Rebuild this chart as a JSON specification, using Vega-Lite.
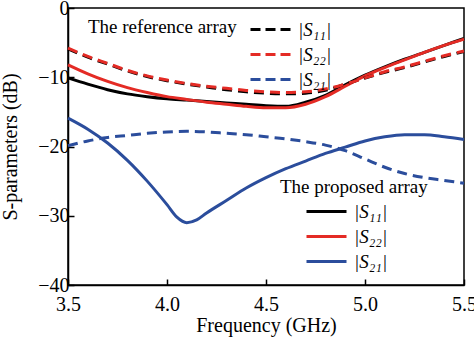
{
  "$schema": "https://vega.github.io/schema/vega-lite/v6.json",
  "width": 396,
  "height": 277,
  "autosize": {"type": "none"},
  "padding": {"left": 68, "top": 8, "right": 10, "bottom": 52},
  "config": {
    "font": "Liberation Serif",
    "view": {"stroke": "black", "strokeWidth": 1.5},
    "axis": {
      "domainColor": "black", "domainWidth": 1.5,
      "tickColor": "black", "tickWidth": 1.5, "tickSize": -6,
      "labelFont": "Liberation Serif", "labelFontSize": 20, "labelColor": "black",
      "titleFont": "Liberation Serif", "titleFontSize": 20, "titleFontWeight": "normal", "titleColor": "black",
      "grid": false, "labelFlush": false, "labelOverlap": false
    },
    "legend": {
      "titleFont": "Liberation Serif", "titleFontSize": 19, "titleFontWeight": "normal", "titleColor": "black",
      "labelFont": "Liberation Serif", "labelFontSize": 19, "labelColor": "black", "labelFontStyle": "italic",
      "symbolType": "stroke", "symbolSize": 1600, "symbolStrokeWidth": 3,
      "clipHeight": 23, "rowPadding": 2, "padding": 0
    }
  },
  "datasets": {
    "prop": [
      {"f": 3.5, "db": -10.1, "s": "|S₁₁|"}, {"f": 3.6, "db": -11.0, "s": "|S₁₁|"}, {"f": 3.7, "db": -11.8, "s": "|S₁₁|"},
      {"f": 3.8, "db": -12.4, "s": "|S₁₁|"}, {"f": 3.9, "db": -12.8, "s": "|S₁₁|"}, {"f": 4.0, "db": -13.1, "s": "|S₁₁|"},
      {"f": 4.1, "db": -13.3, "s": "|S₁₁|"}, {"f": 4.2, "db": -13.5, "s": "|S₁₁|"}, {"f": 4.3, "db": -13.7, "s": "|S₁₁|"},
      {"f": 4.4, "db": -13.9, "s": "|S₁₁|"}, {"f": 4.5, "db": -14.1, "s": "|S₁₁|"}, {"f": 4.6, "db": -14.2, "s": "|S₁₁|"},
      {"f": 4.7, "db": -13.6, "s": "|S₁₁|"}, {"f": 4.8, "db": -12.6, "s": "|S₁₁|"}, {"f": 4.9, "db": -11.1, "s": "|S₁₁|"},
      {"f": 5.0, "db": -9.7, "s": "|S₁₁|"}, {"f": 5.1, "db": -8.5, "s": "|S₁₁|"}, {"f": 5.2, "db": -7.4, "s": "|S₁₁|"},
      {"f": 5.3, "db": -6.4, "s": "|S₁₁|"}, {"f": 5.4, "db": -5.4, "s": "|S₁₁|"}, {"f": 5.5, "db": -4.4, "s": "|S₁₁|"},

      {"f": 3.5, "db": -8.2, "s": "|S₂₂|"}, {"f": 3.6, "db": -9.5, "s": "|S₂₂|"}, {"f": 3.7, "db": -10.6, "s": "|S₂₂|"},
      {"f": 3.8, "db": -11.5, "s": "|S₂₂|"}, {"f": 3.9, "db": -12.2, "s": "|S₂₂|"}, {"f": 4.0, "db": -12.8, "s": "|S₂₂|"},
      {"f": 4.1, "db": -13.2, "s": "|S₂₂|"}, {"f": 4.2, "db": -13.6, "s": "|S₂₂|"}, {"f": 4.3, "db": -13.9, "s": "|S₂₂|"},
      {"f": 4.4, "db": -14.2, "s": "|S₂₂|"}, {"f": 4.5, "db": -14.4, "s": "|S₂₂|"}, {"f": 4.6, "db": -14.4, "s": "|S₂₂|"},
      {"f": 4.7, "db": -13.9, "s": "|S₂₂|"}, {"f": 4.8, "db": -12.8, "s": "|S₂₂|"}, {"f": 4.9, "db": -11.3, "s": "|S₂₂|"},
      {"f": 5.0, "db": -9.8, "s": "|S₂₂|"}, {"f": 5.1, "db": -8.6, "s": "|S₂₂|"}, {"f": 5.2, "db": -7.5, "s": "|S₂₂|"},
      {"f": 5.3, "db": -6.4, "s": "|S₂₂|"}, {"f": 5.4, "db": -5.4, "s": "|S₂₂|"}, {"f": 5.5, "db": -4.5, "s": "|S₂₂|"},

      {"f": 3.5, "db": -15.9, "s": "|S₂₁|"}, {"f": 3.6, "db": -17.5, "s": "|S₂₁|"}, {"f": 3.7, "db": -19.5, "s": "|S₂₁|"},
      {"f": 3.8, "db": -22.0, "s": "|S₂₁|"}, {"f": 3.9, "db": -25.0, "s": "|S₂₁|"}, {"f": 4.0, "db": -28.4, "s": "|S₂₁|"},
      {"f": 4.05, "db": -30.2, "s": "|S₂₁|"}, {"f": 4.1, "db": -31.0, "s": "|S₂₁|"}, {"f": 4.15, "db": -30.6, "s": "|S₂₁|"},
      {"f": 4.2, "db": -29.6, "s": "|S₂₁|"}, {"f": 4.3, "db": -27.8, "s": "|S₂₁|"}, {"f": 4.4, "db": -26.0, "s": "|S₂₁|"},
      {"f": 4.5, "db": -24.5, "s": "|S₂₁|"}, {"f": 4.6, "db": -23.2, "s": "|S₂₁|"}, {"f": 4.7, "db": -22.1, "s": "|S₂₁|"},
      {"f": 4.8, "db": -21.0, "s": "|S₂₁|"}, {"f": 4.9, "db": -20.1, "s": "|S₂₁|"}, {"f": 5.0, "db": -19.2, "s": "|S₂₁|"},
      {"f": 5.1, "db": -18.6, "s": "|S₂₁|"}, {"f": 5.2, "db": -18.3, "s": "|S₂₁|"}, {"f": 5.3, "db": -18.3, "s": "|S₂₁|"},
      {"f": 5.4, "db": -18.6, "s": "|S₂₁|"}, {"f": 5.5, "db": -19.0, "s": "|S₂₁|"}
    ],
    "ref": [
      {"f": 3.5, "db": -5.9, "s": "|S₁₁|"}, {"f": 3.6, "db": -7.1, "s": "|S₁₁|"}, {"f": 3.7, "db": -8.1, "s": "|S₁₁|"},
      {"f": 3.8, "db": -9.1, "s": "|S₁₁|"}, {"f": 3.9, "db": -9.9, "s": "|S₁₁|"}, {"f": 4.0, "db": -10.5, "s": "|S₁₁|"},
      {"f": 4.1, "db": -11.0, "s": "|S₁₁|"}, {"f": 4.2, "db": -11.4, "s": "|S₁₁|"}, {"f": 4.3, "db": -11.8, "s": "|S₁₁|"},
      {"f": 4.4, "db": -12.1, "s": "|S₁₁|"}, {"f": 4.5, "db": -12.3, "s": "|S₁₁|"}, {"f": 4.6, "db": -12.4, "s": "|S₁₁|"},
      {"f": 4.7, "db": -12.3, "s": "|S₁₁|"}, {"f": 4.8, "db": -11.9, "s": "|S₁₁|"}, {"f": 4.9, "db": -11.0, "s": "|S₁₁|"},
      {"f": 5.0, "db": -10.1, "s": "|S₁₁|"}, {"f": 5.1, "db": -9.3, "s": "|S₁₁|"}, {"f": 5.2, "db": -8.6, "s": "|S₁₁|"},
      {"f": 5.3, "db": -7.8, "s": "|S₁₁|"}, {"f": 5.4, "db": -7.0, "s": "|S₁₁|"}, {"f": 5.5, "db": -6.3, "s": "|S₁₁|"},

      {"f": 3.5, "db": -5.8, "s": "|S₂₂|"}, {"f": 3.6, "db": -7.0, "s": "|S₂₂|"}, {"f": 3.7, "db": -8.0, "s": "|S₂₂|"},
      {"f": 3.8, "db": -9.0, "s": "|S₂₂|"}, {"f": 3.9, "db": -9.8, "s": "|S₂₂|"}, {"f": 4.0, "db": -10.4, "s": "|S₂₂|"},
      {"f": 4.1, "db": -10.9, "s": "|S₂₂|"}, {"f": 4.2, "db": -11.3, "s": "|S₂₂|"}, {"f": 4.3, "db": -11.6, "s": "|S₂₂|"},
      {"f": 4.4, "db": -11.9, "s": "|S₂₂|"}, {"f": 4.5, "db": -12.1, "s": "|S₂₂|"}, {"f": 4.6, "db": -12.2, "s": "|S₂₂|"},
      {"f": 4.7, "db": -12.1, "s": "|S₂₂|"}, {"f": 4.8, "db": -11.7, "s": "|S₂₂|"}, {"f": 4.9, "db": -11.0, "s": "|S₂₂|"},
      {"f": 5.0, "db": -10.1, "s": "|S₂₂|"}, {"f": 5.1, "db": -9.2, "s": "|S₂₂|"}, {"f": 5.2, "db": -8.5, "s": "|S₂₂|"},
      {"f": 5.3, "db": -7.7, "s": "|S₂₂|"}, {"f": 5.4, "db": -6.9, "s": "|S₂₂|"}, {"f": 5.5, "db": -6.2, "s": "|S₂₂|"},

      {"f": 3.5, "db": -19.9, "s": "|S₂₁|"}, {"f": 3.6, "db": -19.2, "s": "|S₂₁|"}, {"f": 3.7, "db": -18.7, "s": "|S₂₁|"},
      {"f": 3.8, "db": -18.4, "s": "|S₂₁|"}, {"f": 3.9, "db": -18.1, "s": "|S₂₁|"}, {"f": 4.0, "db": -17.9, "s": "|S₂₁|"},
      {"f": 4.1, "db": -17.8, "s": "|S₂₁|"}, {"f": 4.2, "db": -17.9, "s": "|S₂₁|"}, {"f": 4.3, "db": -18.1, "s": "|S₂₁|"},
      {"f": 4.4, "db": -18.3, "s": "|S₂₁|"}, {"f": 4.5, "db": -18.6, "s": "|S₂₁|"}, {"f": 4.6, "db": -18.9, "s": "|S₂₁|"},
      {"f": 4.7, "db": -19.3, "s": "|S₂₁|"}, {"f": 4.8, "db": -19.8, "s": "|S₂₁|"}, {"f": 4.9, "db": -20.6, "s": "|S₂₁|"},
      {"f": 5.0, "db": -21.8, "s": "|S₂₁|"}, {"f": 5.1, "db": -23.0, "s": "|S₂₁|"}, {"f": 5.2, "db": -23.9, "s": "|S₂₁|"},
      {"f": 5.3, "db": -24.5, "s": "|S₂₁|"}, {"f": 5.4, "db": -24.9, "s": "|S₂₁|"}, {"f": 5.5, "db": -25.3, "s": "|S₂₁|"}
    ]
  },
  "encoding": {
    "x": {
      "field": "f", "type": "quantitative",
      "scale": {"domain": [3.5, 5.5], "nice": false, "zero": false},
      "axis": {"title": "Frequency (GHz)", "values": [3.5, 4, 4.5, 5, 5.5], "format": ".1f",
               "labelPadding": 15, "titleY": 46, "titleBaseline": "alphabetic"}
    },
    "y": {
      "field": "db", "type": "quantitative",
      "scale": {"domain": [-40, 0], "nice": false, "zero": false},
      "axis": {"title": "S-parameters (dB)", "values": [-40, -30, -20, -10, 0],
               "labelExpr": "datum.value < 0 ? '−' + format(-datum.value, 'd') : format(datum.value, 'd')",
               "labelPadding": 5, "titleX": -52, "titleY": 138.5, "titleAngle": -90, "titleBaseline": "alphabetic", "titleAlign": "center"}
    }
  },
  "layer": [
    {
      "data": {"name": "prop"},
      "mark": {"type": "line", "strokeWidth": 3, "interpolate": "monotone"},
      "encoding": {
        "color": {
          "field": "s", "type": "nominal",
          "scale": {"domain": ["|S₁₁|", "|S₂₂|", "|S₂₁|"], "range": ["#000000", "#e42b25", "#2b4d9c"]},
          "legend": {"title": "The proposed array", "orient": "none", "legendX": 212, "legendY": 170,
                     "titleOrient": "top", "titleAnchor": "start", "titlePadding": 3,
                     "symbolOffset": 25, "labelOffset": 6}
        }
      }
    },
    {
      "data": {"name": "ref"},
      "mark": {"type": "line", "strokeWidth": 3, "interpolate": "monotone", "strokeDash": [10, 6]},
      "encoding": {
        "color": {
          "field": "s", "type": "nominal",
          "scale": {"domain": ["|S₁₁|", "|S₂₂|", "|S₂₁|"], "range": ["#000000", "#e42b25", "#2b4d9c"]},
          "legend": {"title": "The reference array", "orient": "none", "legendX": 20, "legendY": 10,
                     "titleOrient": "left", "titleAnchor": "start", "titlePadding": 12,
                     "symbolDash": [10, 5], "labelOffset": 6}
        }
      }
    }
  ],
  "resolve": {"scale": {"color": "independent"}}
}
